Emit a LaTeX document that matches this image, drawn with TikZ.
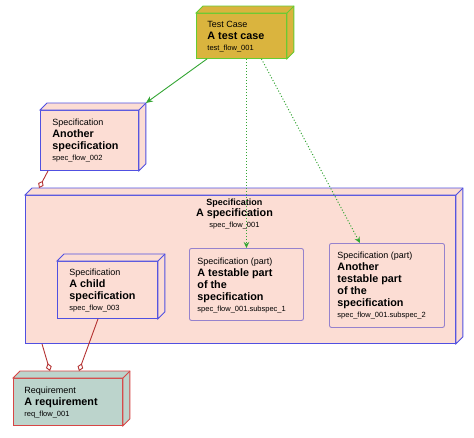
\documentclass[tikz,border=0pt]{standalone}
\usepackage{fontspec}
\setmainfont{Liberation Sans}
\usetikzlibrary{arrows.meta,positioning}
\definecolor{casegold}{RGB}{218,180,62}
\definecolor{casegreen}{RGB}{102,204,51}
\definecolor{linkgreen}{RGB}{51,165,51}
\definecolor{specpink}{RGB}{252,221,212}
\definecolor{specblue}{RGB}{80,80,225}
\definecolor{partviolet}{RGB}{150,130,205}
\definecolor{reqteal}{RGB}{188,212,204}
\definecolor{reqred}{RGB}{215,70,70}
\definecolor{linkred}{RGB}{180,50,50}
\newcommand{\kindfont}{\fontsize{9}{12}\selectfont}
\newcommand{\namefont}{\bfseries\fontsize{10.8}{12}\selectfont}
\newcommand{\idfont}{\fontsize{7.5}{10}\selectfont}
\tikzstyle{caseBox} = [
 rectangle,
 draw=casegreen,
 fill=casegold,
 anchor=north west,
 inner sep=0pt
]
\tikzstyle{specBox} = [
 rectangle,
 draw=specblue,
 fill=specpink,
 anchor=north west,
 inner sep=0pt
]
\tikzstyle{partBox} = [
 rectangle,
 draw=partviolet,
 fill=specpink,
 rounded corners=2pt,
 anchor=north west,
 inner sep=0pt
]
\tikzstyle{reqBox} = [
 rectangle,
 draw=reqred,
 fill=reqteal,
 anchor=north west,
 inner sep=0pt
]
\tikzstyle{boxText} = [
 anchor=north west,
 align=left,
 inner sep=0pt,
 font=\kindfont
]
\tikzstyle{verifies} = [linkgreen, -{Stealth[length=7pt,width=6pt]}]
\tikzstyle{verifiesPart} = [linkgreen, line width=1pt, dash pattern=on 1pt off 2pt, -{Stealth[length=6pt,width=5.5pt]}]
\tikzstyle{partOf} = [linkred, -{Diamond[length=8pt,width=6pt,fill=white]}]
% top and right face of a 3d box
\newcommand{\boxFaces}[3]{%
  \filldraw[fill=#2, draw=#3] (#1.north west) -- ++(7,-7)
    -- ([shift={(7,-7)}]#1.north east) -- ([shift={(7,-7)}]#1.south east)
    -- (#1.south east) -- (#1.north east) -- cycle;
  \draw[#3] (#1.north east) -- ++(7,-7);
}

\begin{document}
\begin{tikzpicture}[x=1pt, y=-1pt, line width=0.9pt]
  \useasboundingbox (0,0) rectangle (474,437);

  % test case
  \node [caseBox, minimum width=90pt, minimum height=45pt] (case) at (196,13) {};
  \boxFaces{case}{casegold}{casegreen}
  \node [boxText] (caseText) at ([shift={(11,8)}]case.north west)
    {Test Case\\{\namefont A test case}\\[-1pt]{\idfont test\_flow\_001}};

  % specifications
  \node [specBox, minimum width=98pt, minimum height=60pt] (another) at (40,110) {};
  \boxFaces{another}{specpink}{specblue}
  \node [boxText] (anotherText) at ([shift={(12,9)}]another.north west)
    {Specification\\{\namefont Another}\\{\namefont specification}\\[-1pt]{\idfont spec\_flow\_002}};

  \node [specBox, minimum width=430pt, minimum height=148pt] (spec) at (25,195) {};
  \boxFaces{spec}{specpink}{specblue}
  \node [boxText, anchor=north, align=center] (specText) at ([shift={(-6,4)}]spec.north)
    {\textbf{Specification}\\[-1pt]{\namefont A specification}\\[-1pt]{\idfont spec\_flow\_001}};

  \node [specBox, minimum width=100pt, minimum height=57pt] (child) at (57,261) {};
  \boxFaces{child}{specpink}{specblue}
  \node [boxText] (childText) at ([shift={(12,8)}]child.north west)
    {Specification\\{\namefont A child}\\{\namefont specification}\\[-1pt]{\idfont spec\_flow\_003}};

  % testable parts
  \node [partBox, minimum width=114pt, minimum height=72pt] (part1) at (189,248) {};
  \node [boxText] (part1Text) at ([shift={(8,10)}]part1.north west)
    {Specification (part)\\{\namefont A testable part}\\{\namefont of the}\\{\namefont specification}\\[-1pt]{\idfont spec\_flow\_001.subspec\_1}};

  \node [partBox, minimum width=115pt, minimum height=84pt] (part2) at (329,243) {};
  \node [boxText] (part2Text) at ([shift={(8,9)}]part2.north west)
    {Specification (part)\\{\namefont Another}\\{\namefont testable part}\\{\namefont of the}\\{\namefont specification}\\[-1pt]{\idfont spec\_flow\_001.subspec\_2}};

  % requirement
  \node [reqBox, minimum width=109pt, minimum height=47pt] (req) at (13,378) {};
  \boxFaces{req}{reqteal}{reqred}
  \node [boxText] (reqText) at ([shift={(11,9)}]req.north west)
    {Requirement\\{\namefont A requirement}\\[-1pt]{\idfont req\_flow\_001}};

  % links
  \draw [verifies] ([xshift=11pt]case.south west) -- ([shift={(7,-7)}]another.north east);
  \draw [verifiesPart] (part1.north |- case.south) -- (part1.north);
  \draw [verifiesPart] ([xshift=20pt]case.south) -- ([xshift=-27pt]part2.north);
  \draw [partOf] ([xshift=8pt]another.south west) -- ([shift={(14,-7)}]spec.north west);
  \draw [partOf] ([xshift=17pt]spec.south west) -- ([shift={(37,-7)}]req.north west);
  \draw [partOf] ([xshift=41pt]child.south west) -- ([shift={(66,-7)}]req.north west);
\end{tikzpicture}
\end{document}
